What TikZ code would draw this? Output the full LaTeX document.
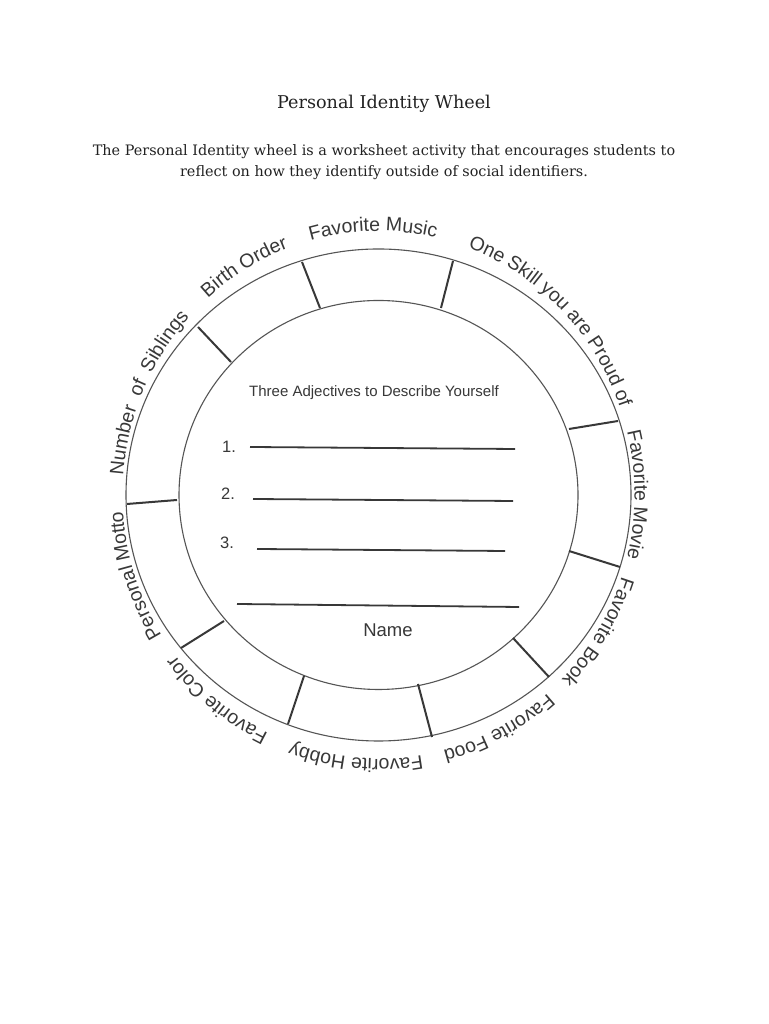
\documentclass[tikz,border=0pt]{standalone}
\usepackage{fontspec}
\setmainfont{DejaVu Serif}
\newfontfamily\wheelfont{Liberation Sans}
\usetikzlibrary{decorations.text}
\definecolor{ink}{HTML}{222222}
\definecolor{scan}{HTML}{383838}
\definecolor{ring}{HTML}{555555}
\newcommand\wlab{\wheelfont\fontsize{19.5}{22}\selectfont\color{scan}}
\newcommand\arclabel[2]{%
  \pgfmathsetmacro\labsa{#1+40}\pgfmathsetmacro\labea{#1-40}%
  \path[decorate,decoration={text along path,text align=center,text={|\wlab|#2}}]
    (C) ++(\labsa:256pt and 264pt) arc[start angle=\labsa,end angle=\labea,x radius=256pt,y radius=264pt];}
\begin{document}
\begin{tikzpicture}[x=1pt,y=1pt,
  ringline/.style={draw=ring,line width=1.1pt},
  divider/.style={draw=scan,line width=2pt},
  blank/.style={draw=scan,line width=1.8pt},
  headtext/.style={text=ink,inner sep=0pt,anchor=base},
  wheeltext/.style={text=scan,inner sep=0pt,font=\wheelfont}]
\useasboundingbox (0,0) rectangle (768,1024);
\fill[white] (0,0) rectangle (768,1024);
% heading
\node[headtext,font=\fontsize{17.6}{21}\selectfont] (title) at (384,915) {Personal Identity Wheel};
\node[headtext,font=\fontsize{14.4}{20}\selectfont] (intro1) at (384,868.5) {The Personal Identity wheel is a worksheet activity that encourages students to};
\node[headtext,font=\fontsize{14.4}{20}\selectfont] (intro2) at (384,847.5) {reflect on how they identify outside of social identifiers.};
% wheel
\coordinate (C) at (378.5,529);
\draw[ringline] (C) ellipse[x radius=252.5pt,y radius=246pt];
\draw[ringline] (C) ellipse[x radius=199.5pt,y radius=194.5pt];
% dividers
\draw[divider] (302,762) -- (320,716);
\draw[divider] (453,763) -- (441,716);
\draw[divider] (618,603) -- (569,595);
\draw[divider] (620,457) -- (569,473);
\draw[divider] (549,347) -- (513,386);
\draw[divider] (432,287) -- (418,340);
\draw[divider] (288,300) -- (304,348);
\draw[divider] (181,376) -- (224,403);
\draw[divider] (127,520) -- (177,524);
\draw[divider] (198,697) -- (231,662);
% labels around the wheel
\arclabel{120.9}{Birth Order}
\arclabel{91.2}{Favorite Music}
\arclabel{44.7}{One Skill you are Proud of}
\arclabel{0}{Favorite Movie}
\arclabel{-31.5}{Favorite Book}
\arclabel{-62.3}{Favorite Food}
\arclabel{-95}{Favorite Hobby}
\arclabel{-128.7}{Favorite Color}
\arclabel{198}{Personal Motto}
\arclabel{156.5}{Number{\hspace{5pt}} of{\hspace{5pt}} Siblings}
% inside
\node[wheeltext,font=\wheelfont\fontsize{15}{18}\selectfont,anchor=base] (adj) at (374,627) {Three Adjectives to Describe Yourself};
\node[wheeltext,font=\wheelfont\fontsize{16.5}{18}\selectfont,anchor=base west] (n1) at (222,571) {1.};
\node[wheeltext,font=\wheelfont\fontsize{16.5}{18}\selectfont,anchor=base west] (n2) at (221,524) {2.};
\node[wheeltext,font=\wheelfont\fontsize{16.5}{18}\selectfont,anchor=base west] (n3) at (220,475) {3.};
\coordinate (l1a) at (250,577); \coordinate (l1b) at (515,575);
\coordinate (l2a) at (253,525); \coordinate (l2b) at (513,523);
\coordinate (l3a) at (257,475); \coordinate (l3b) at (505,473);
\coordinate (l4a) at (237,420); \coordinate (l4b) at (519,417);
\draw[blank] (l1a) -- (l1b);
\draw[blank] (l2a) -- (l2b);
\draw[blank] (l3a) -- (l3b);
\draw[blank] (l4a) -- (l4b);
\node[wheeltext,font=\wheelfont\fontsize{18.5}{20}\selectfont,anchor=base] (name) at (388,387) {Name};
\end{tikzpicture}
\end{document}
